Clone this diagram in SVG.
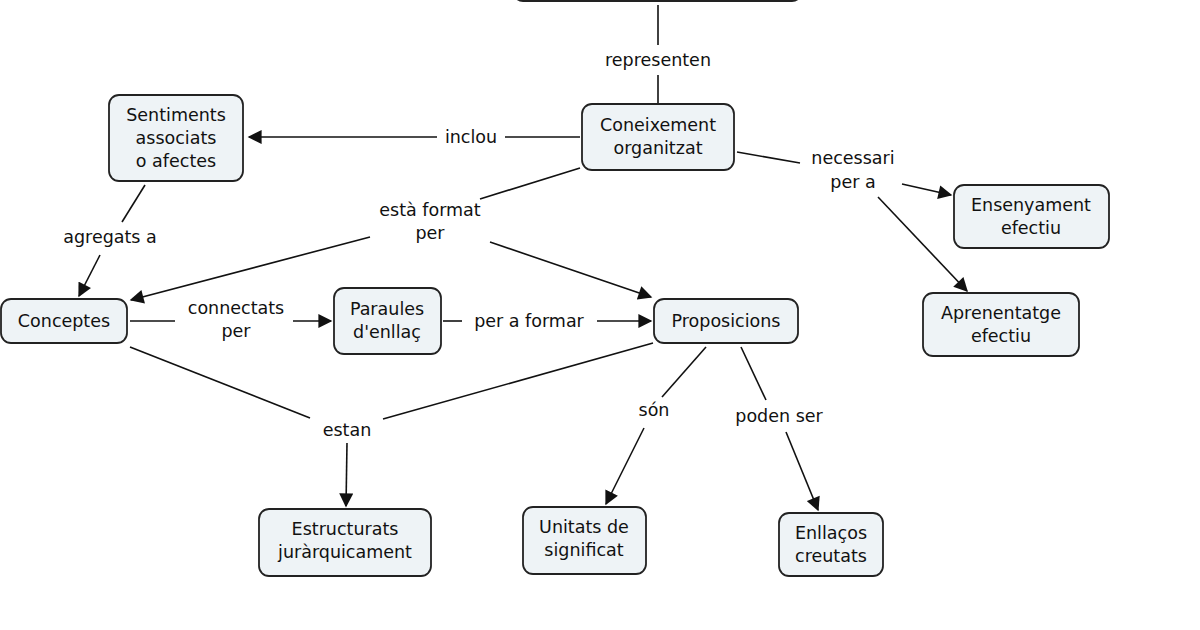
<svg xmlns="http://www.w3.org/2000/svg" width="1200" height="630" viewBox="0 0 1200 630">
<style>
.n{fill:#eef3f6;stroke:#222;stroke-width:1.8}
text{font-family:"DejaVu Sans",Verdana,sans-serif;font-size:17.5px;fill:#111;text-anchor:middle}
.c line{stroke:#111;stroke-width:1.6}
.a{marker-end:url(#ar)}
</style>
<defs><marker id="ar" viewBox="0 0 10 10" refX="9" refY="5" markerWidth="15" markerHeight="14" markerUnits="userSpaceOnUse" orient="auto"><path d="M0,0 L10,5 L0,10Z" fill="#111"/></marker></defs>
<rect width="1200" height="630" fill="#fff"/>
<g class="c">
<line x1="658" y1="5" x2="658" y2="45"/><line x1="658" y1="75" x2="658" y2="103"/>
<line x1="580" y1="137" x2="505" y2="137"/><line class="a" x1="437" y1="137" x2="249" y2="137"/>
<line x1="737" y1="152" x2="800" y2="163"/><line class="a" x1="902" y1="184" x2="951" y2="195"/><line class="a" x1="878" y1="197" x2="967" y2="291"/>
<line x1="580" y1="168" x2="480" y2="199"/><line class="a" x1="370" y1="237" x2="131" y2="300"/><line class="a" x1="490" y1="242" x2="651" y2="297"/>
<line x1="145" y1="185" x2="122" y2="222"/><line class="a" x1="100" y1="255" x2="79" y2="296"/>
<line x1="130" y1="321" x2="175" y2="321"/><line class="a" x1="293" y1="321" x2="331" y2="321"/>
<line x1="443" y1="321" x2="462" y2="321"/><line class="a" x1="597" y1="321" x2="651" y2="321"/>
<line x1="130" y1="347" x2="310" y2="418"/><line x1="383" y1="419" x2="653" y2="343"/><line class="a" x1="347" y1="443" x2="346" y2="506"/>
<line x1="706" y1="347" x2="662" y2="397"/><line class="a" x1="644" y1="428" x2="606" y2="504"/>
<line x1="741" y1="347" x2="766" y2="400"/><line class="a" x1="786" y1="432" x2="818" y2="510"/>
<text x="658" y="66">representen</text>
<text x="471" y="143">inclou</text>
<text x="853" y="164">necessari</text><text x="853" y="188">per a</text>
<text x="430" y="216">està format</text><text x="430" y="239">per</text>
<text x="110" y="243">agregats a</text>
<text x="236" y="314">connectats</text><text x="236" y="337">per</text>
<text x="529" y="327">per a formar</text>
<text x="347" y="436">estan</text>
<text x="654" y="416">són</text>
<text x="779" y="422">poden ser</text>
</g>
<g id="top"><rect class="n" x="513" y="-40" width="289" height="41" rx="10"/></g>
<g id="coneixement"><rect class="n" x="582" y="104" width="152" height="66" rx="10"/><text x="658" y="131">Coneixement</text><text x="658" y="154">organitzat</text></g>
<g id="sentiments"><rect class="n" x="109" y="95" width="134" height="86" rx="10"/><text x="176" y="121">Sentiments</text><text x="176" y="144">associats</text><text x="176" y="167">o afectes</text></g>
<g id="ensenyament"><rect class="n" x="954" y="185" width="155" height="63" rx="10"/><text x="1031" y="211">Ensenyament</text><text x="1031" y="234">efectiu</text></g>
<g id="aprenentatge"><rect class="n" x="923" y="293" width="156" height="63" rx="10"/><text x="1001" y="319">Aprenentatge</text><text x="1001" y="342">efectiu</text></g>
<g id="conceptes"><rect class="n" x="1" y="299" width="126" height="44" rx="10"/><text x="64" y="327">Conceptes</text></g>
<g id="paraules"><rect class="n" x="334" y="288" width="107" height="66" rx="10"/><text x="387" y="315">Paraules</text><text x="387" y="338">d'enllaç</text></g>
<g id="proposicions"><rect class="n" x="654" y="299" width="144" height="44" rx="10"/><text x="726" y="327">Proposicions</text></g>
<g id="estructurats"><rect class="n" x="259" y="509" width="172" height="67" rx="10"/><text x="345" y="535">Estructurats</text><text x="345" y="558">juràrquicament</text></g>
<g id="unitats"><rect class="n" x="523" y="507" width="123" height="67" rx="10"/><text x="584" y="533">Unitats de</text><text x="584" y="556">significat</text></g>
<g id="enllacos"><rect class="n" x="779" y="513" width="104" height="63" rx="10"/><text x="831" y="539">Enllaços</text><text x="831" y="562">creutats</text></g>
</svg>
